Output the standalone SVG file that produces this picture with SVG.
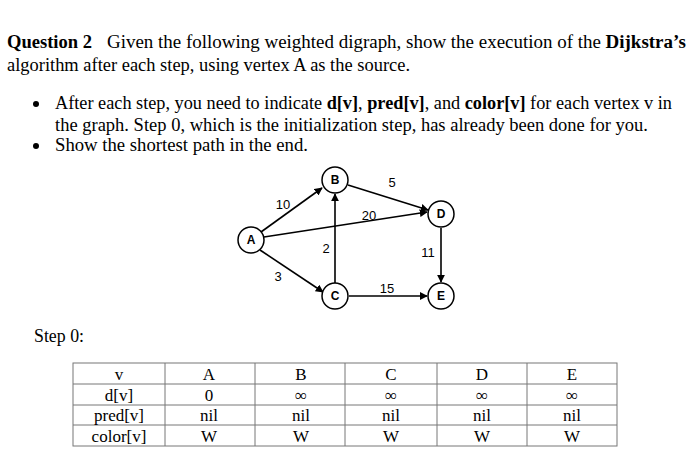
<svg xmlns="http://www.w3.org/2000/svg" width="700" height="457" viewBox="0 0 700 457">
<style>
.t{font-family:"Liberation Serif",serif;font-size:18px;fill:#000}
.n{fill:#fff;stroke:#000;stroke-width:1.5}
.nl{font-family:"Liberation Sans",sans-serif;font-size:12px;font-weight:bold;text-anchor:middle}
.el{font-family:"Liberation Sans",sans-serif;font-size:13px;text-anchor:middle}
.e{stroke:#000;stroke-width:1.6;fill:none;marker-end:url(#ar)}
.tc{font-family:"Liberation Serif",serif;font-size:17px;text-anchor:middle}
.g{stroke:#777;stroke-width:1}
</style>
<defs><marker id="ar" viewBox="0 0 10 10" refX="9" refY="5" markerWidth="5" markerHeight="5" orient="auto"><path d="M0,0L10,5L0,10z" fill="#000"/></marker></defs>
<rect width="700" height="457" fill="#fff"/>
<text class="t" x="7" y="48" font-weight="bold" textLength="85" lengthAdjust="spacingAndGlyphs">Question 2</text>
<text class="t" x="107" y="48" textLength="579" lengthAdjust="spacingAndGlyphs">Given the following weighted digraph, show the execution of the <tspan font-weight="bold">Dijkstra’s</tspan></text>
<text class="t" x="7" y="71" textLength="403" lengthAdjust="spacingAndGlyphs">algorithm after each step, using vertex A as the source.</text>
<circle cx="36" cy="104" r="3"/>
<text class="t" x="55" y="109" textLength="617" lengthAdjust="spacingAndGlyphs">After each step, you need to indicate <tspan font-weight="bold">d[v]</tspan>, <tspan font-weight="bold">pred[v]</tspan>, and <tspan font-weight="bold">color[v]</tspan> for each vertex v in</text>
<text class="t" x="55" y="131" textLength="593" lengthAdjust="spacingAndGlyphs">the graph. Step 0, which is the initialization step, has already been done for you.</text>
<circle cx="36" cy="146" r="3"/>
<text class="t" x="55" y="151" textLength="253" lengthAdjust="spacingAndGlyphs">Show the shortest path in the end.</text>
<text class="t" x="34" y="342" textLength="50" lengthAdjust="spacingAndGlyphs">Step 0:</text>
<g id="edges">
<path class="e" d="M261,232L322,188"/>
<path class="e" d="M264,237L427,212"/>
<path class="e" d="M260,250L323,292"/>
<path class="e" d="M335,283L335,194"/>
<path class="e" d="M348,185L428,210"/>
<path class="e" d="M441,228L441,282"/>
<path class="e" d="M349,296L427,296"/>
<text class="el" x="283" y="209">10</text>
<text class="el" x="392" y="187">5</text>
<text class="el" x="369" y="220">20</text>
<text class="el" x="326" y="253">2</text>
<text class="el" x="428" y="257">11</text>
<text class="el" x="278" y="281">3</text>
<text class="el" x="387" y="293">15</text>
</g>
<g id="A"><circle class="n" cx="251" cy="240" r="13"/><text class="nl" x="251" y="244">A</text></g>
<g id="B"><circle class="n" cx="335" cy="180" r="13"/><text class="nl" x="335" y="184">B</text></g>
<g id="C"><circle class="n" cx="335" cy="296" r="13"/><text class="nl" x="335" y="300">C</text></g>
<g id="D"><circle class="n" cx="441" cy="214" r="13"/><text class="nl" x="441" y="218">D</text></g>
<g id="E"><circle class="n" cx="441" cy="296" r="13"/><text class="nl" x="441" y="300">E</text></g>
<g id="table">
<rect x="73" y="363" width="544" height="83" fill="none" class="g"/>
<path class="g" d="M73,384H617M73,405H617M73,425H617M165,363V446M255,363V446M345,363V446M437,363V446M527,363V446"/>
<g class="tc">
<text x="119" y="380">v</text><text x="209" y="380">A</text><text x="301" y="380">B</text><text x="391" y="380">C</text><text x="482" y="380">D</text><text x="572" y="380">E</text>
<text x="119" y="401">d[v]</text><text x="209" y="401">0</text><text x="301" y="401">∞</text><text x="391" y="401">∞</text><text x="482" y="401">∞</text><text x="572" y="401">∞</text>
<text x="119" y="421">pred[v]</text><text x="209" y="421">nil</text><text x="301" y="421">nil</text><text x="391" y="421">nil</text><text x="482" y="421">nil</text><text x="572" y="421">nil</text>
<text x="119" y="442">color[v]</text><text x="209" y="442">W</text><text x="301" y="442">W</text><text x="391" y="442">W</text><text x="482" y="442">W</text><text x="572" y="442">W</text>
</g>
</g>
</svg>
